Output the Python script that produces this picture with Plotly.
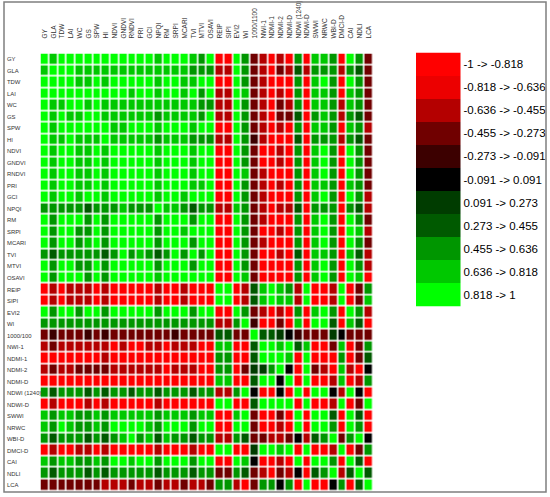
import plotly.graph_objects as go

# variable names (columns on top, rows on the left)
col_labels = ["GY", "GLA", "TDW", "LAI", "WC", "GS", "SPW", "HI", "NDVI", "GNDVI",
              "RNDVI", "PRI", "GCI", "NPQI", "RM", "SRPI", "MCARI", "TVI", "MTVI", "OSAVI",
              "REIP", "SIPI", "EVI2", "WI", "1000/1100", "NWI-1", "NDMI-1", "NDMI-2", "NDMI-D",
              "NDWI (1240)", "NDWI-D", "SWWI", "NRWC", "WBI-D", "DMCI-D", "CAI", "NDLI", "LCA"]
row_labels = ["GY", "GLA", "TDW", "LAI", "WC", "GS", "SPW", "HI", "NDVI", "GNDVI",
              "RNDVI", "PRI", "GCI", "NPQI", "RM", "SRPI", "MCARI", "TVI", "MTVI", "OSAVI",
              "REIP", "SIPI", "EVI2", "WI", "1000/100", "NWI-1", "NDMI-1", "NDMI-2", "NDMI-D",
              "NDWI (1240)", "NDWI-D", "SWWI", "NRWC", "WBI-D", "DMCI-D", "CAI", "NDLI", "LCA"]

# correlation class (one code per cell)
code_values = {"R": -0.91, "r": -0.73, "p": -0.55, "q": -0.36, "f": -0.18, "k": 0.0,
               "e": 0.18, "d": 0.36, "m": 0.55, "g": 0.73, "G": 0.91}
row_codes = [
    "G g G G G G G G G G G G G g G G G g  m G R R G m q p R p R m R g g m R G m q",
    "g G G G g g g g g g g g g g g g g m  m m p p G m q p R q p d p m m m p m d q",
    "G G G G g g G g G G G G G g G G g g  G G R R G m q p R R R m R g G m R G m q",
    "G G G G G G G G G G g G G g G G g G  m G p p G g q p R p R m R g g m R g m q",
    "G g g G G g G g g g g g g g g g g g  m m p p G m q p R q p m R g g m p g m q",
    "G g G g g G G g g g g g g m g g g g  m G p p G m q p R q q d R m g m p m d q",
    "G g G G G G G G g g G G G g G G G g  G G R R G m q p R p R m R g g m R g m p",
    "G g g G g g g G g g g g g m g g g m  m m p p G m f p R R R d R m m m p m d q",
    "G g G G g g G g G G G G G g G G G g  G G R R G m q R R p R m R g G m R G m q",
    "G g G G g g G g G G G G G g G G G g  G G R R G m q R R p R m R g G m R G m q",
    "G g G G g g G g G G G G G g G G G g  G G R R G g q p R R R m R g G m R G m q",
    "G g G G g g G g G G G G G g G G G g  g G R R G m q p R p R m R g g m R g m q",
    "G g G G g G G g G G G G G g G G g G  G G R R G m q p R R R m R g G m R G m p",
    "m m m m m d m m m g m m m G g g m d  m m p p g m q p R p p d R m m m R m d p",
    "G m G G G m G m G G G G G m G G G m  G G R R G m q p R R R m R g G m R G m q",
    "G m G G m m G m G G G G G m G G g G  G G R R G m q R R p R m R g G m R G g p",
    "G m G G m g G m G G G G G m G G G m  G G R R G m q p R R R m R g G m R G m q",
    "m d m m m m m d m G m g m d m G m G  m G R R G m q R R p R d R g g m R g d p",
    "G m G G m m G m G G G G G m G G G m  G G R R G m q R R R R m R g G m R G m p",
    "G m G G G m G m G G G G G g G G G G  G G R R G g q R R R R m R g G m R G g R",
    "R p R p p p R p R R R R R p R R p R  R R G G R p d g G g m p G R R p G R q m",
    "R p R p p p R p R R R R R p R R p R  R R G G R p d g G g g p G R R p G R q g",
    "G m G G m G G m G G G G G m G G G m  G G R R G m q p R p R m R g G m R G m p",
    "m m m m m m m m m m m m m m m m m m  m m p p m G f R R q R g R G G d R g d R",
    "q f q q q f q f q q q q q q q f q q  q q d d q q G d d e k f q q q e k q q q",
    "p q p p p p p p R p R R p p R p p p  R R g g R R d G G g G d g R R q g R q m",
    "R R R R R R R p R R R R R R R R R R  R R m m R R d G G G g R G R R R m R q d",
    "p q p p q q q q p p p p p p R p p p  R R m m R q e e m G k R G q p R g p R k",
    "R R R R R R R R R R R R R R R R R R  R R g g R R d G G k G R G R R p g R p m",
    "m d m m m d m d m m d m m d m m m d  m m p p m G k R R k R G R G G k p G k R",
    "R p R R R p R p R R R R R p R R R R  R R G G R R d G G G G R G R R p G R q G",
    "g m g g m m g m g g g g g m g g g m  g g R R g G q R R q R G R G G d R G d R",
    "g m G g m m g m G G G G g m G G G m  G G R R G G q R R p R G R G G m R G m R",
    "m d m m m d m d m g G m g d g m m d  m m p p m d q q p p q k p d m G q m G k",
    "R p R R p p R p R R R R R p R R R p  R R G G R R e G G g G R G R R p G R q m",
    "g m g g m m g m G G g G G m G G G m  G G R R G g k R R p R G R G G m R G d R",
    "m d m m m d m d m m m m m d m m m d  m m q q m d q p R q p k R d m G p d G d",
    "q q q q q q q p p p q p p q p p q p  p q m m p R q m m k m R G R R k m R d G",
]

# legend classes
legend_labels = ["-1 -> -0.818", "-0.818 -> -0.636", "-0.636 -> -0.455", "-0.455 -> -0.273",
                 "-0.273 -> -0.091", "-0.091 -> 0.091", "0.091 -> 0.273", "0.273 -> 0.455",
                 "0.455 -> 0.636", "0.636 -> 0.818", "0.818 -> 1"]
legend_values = [-0.91, -0.73, -0.55, -0.36, -0.18, 0.0, 0.18, 0.36, 0.55, 0.73, 0.91]
legend_colors = ["#ff0000", "#ec0000", "#b40000", "#700000", "#3c0000", "#000000",
                 "#003c00", "#005a00", "#009600", "#00c800", "#00ff00"]

W, H = 550, 497
n = len(legend_colors)
cscale = []
for i, c in enumerate(legend_colors):
    cscale.append([i / n, c])
    cscale.append([(i + 1) / n, c])

z = [[code_values[c] for c in r.split()] for r in row_codes]

fig = go.Figure()
fig.add_trace(go.Heatmap(z=z, x=col_labels, y=row_labels, colorscale=cscale,
                         zmin=-1, zmax=1, showscale=False, xgap=1.6, ygap=1.6,
                         xaxis="x", yaxis="y"))
fig.add_trace(go.Heatmap(z=[[v] for v in legend_values], x=["c"], y=legend_labels,
                         colorscale=cscale, zmin=-1, zmax=1, showscale=False,
                         xaxis="x2", yaxis="y2"))

lab_font = "Liberation Sans, Arial, sans-serif"

# row labels, left aligned like the original
for lab in row_labels:
    fig.add_annotation(x=4.5 / W, xref="paper", xanchor="left", y=lab, yref="y",
                       text=lab, showarrow=False,
                       font=dict(family=lab_font, size=5.9, color="#333333"))

fig.update_layout(
    width=W, height=H,
    margin=dict(l=0, r=0, t=0, b=0),
    paper_bgcolor="white", plot_bgcolor="white",
    xaxis=dict(domain=[40.5 / W, 373 / W], side="top", tickangle=-90,
               tickmode="array", tickvals=col_labels, ticktext=col_labels,
               tickfont=dict(family=lab_font, size=6.5, color="#333333"),
               ticklabelstandoff=14, showgrid=False, zeroline=False, ticks=""),
    yaxis=dict(domain=[(H - 491) / H, (H - 53.5) / H], autorange="reversed",
               showticklabels=False, showgrid=False, zeroline=False),
    xaxis2=dict(domain=[416 / W, 460.5 / W], anchor="y2", visible=False),
    yaxis2=dict(domain=[(H - 306.5) / H, (H - 52.5) / H], anchor="x2", side="right",
                autorange="reversed", showgrid=False, zeroline=False, ticks="",
                tickfont=dict(family=lab_font, size=11.5, color="black"),
                ticklabelstandoff=2),
    shapes=[dict(type="rect", xref="paper", yref="paper",
                 x0=4 / W, x1=546 / W, y0=(H - 492) / H, y1=(H - 2) / H,
                 line=dict(color="#7f7f7f", width=1.5))],
)

# page has a default body margin; drop it so the figure sits at the window corner
fig.write_html("out.html", config={"displayModeBar": False},
               post_script="document.body.style.margin='0';")
